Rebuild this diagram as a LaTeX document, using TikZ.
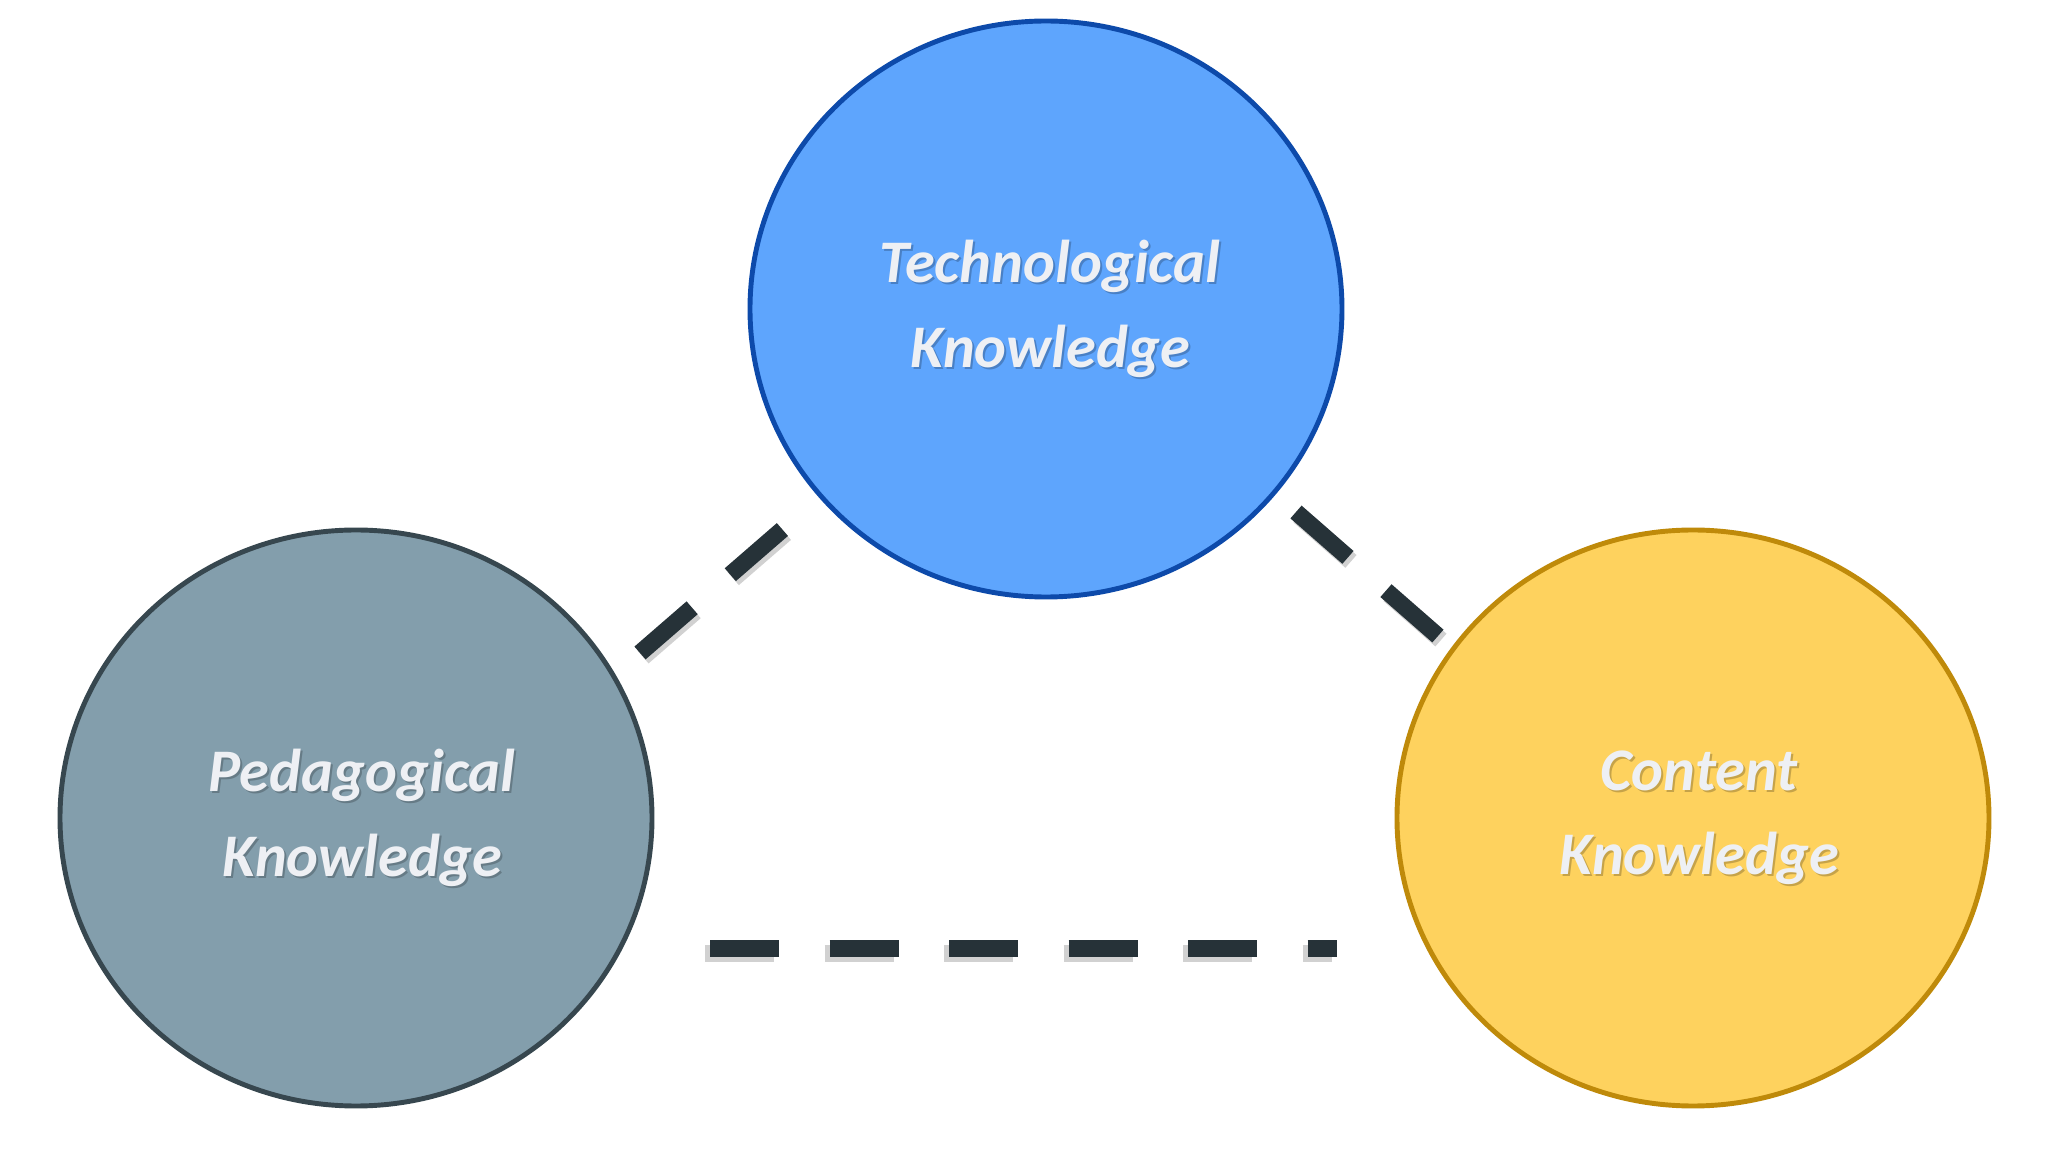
\documentclass[tikz,border=0pt]{standalone}
\usepackage{fontspec}
\setmainfont{Carlito}
\definecolor{techblue}{RGB}{94,165,253}
\definecolor{techedge}{RGB}{13,74,170}
\definecolor{pedgrey}{RGB}{131,158,172}
\definecolor{pededge}{RGB}{55,71,79}
\definecolor{contyellow}{RGB}{254,210,94}
\definecolor{contedge}{RGB}{191,138,10}
\definecolor{dashdark}{RGB}{38,50,56}
\definecolor{labelwhite}{RGB}{238,240,244}
\usetikzlibrary{shapes.geometric,positioning}

\begin{document}
\begin{tikzpicture}[
    knowledge/.style={ellipse, minimum width=5.92cm, minimum height=5.76cm, inner sep=0pt, line width=1.4pt},
    labeltext/.style={font=\fontsize{17.2}{24}\selectfont\bfseries\itshape, text=labelwhite, align=center},
    labelshade/.style={font=\fontsize{17.2}{24}\selectfont\bfseries\itshape, text=black, opacity=0.22, align=center},
    link/.style={dashdark, line width=0.17cm, dash pattern=on 0.69cm off 0.505cm},
    linkshade/.style={black, opacity=0.18, line width=0.17cm, dash pattern=on 0.69cm off 0.505cm}
]
    \fill[white] (0,0) rectangle (20.48,-11.52);
    \useasboundingbox (0,0) rectangle (20.48,-11.52);

    \node[knowledge, fill=techblue, draw=techedge] (tech) at (10.46,-3.09) {};
    \node[knowledge, fill=pedgrey, draw=pededge] (ped) at (3.56,-8.18) {};
    \node[knowledge, fill=contyellow, draw=contedge] (cont) at (16.93,-8.18) {};

    \node[labelshade] (tech-shade) at ([shift={(0.06,-0.02)}]tech) {Technological\\Knowledge};
    \node[labeltext] (tech-label) at ([xshift=0.04cm]tech) {Technological\\Knowledge};
    \node[labelshade] (ped-shade) at ([shift={(0.08,-0.02)}]ped) {Pedagogical\\Knowledge};
    \node[labeltext] (ped-label) at ([xshift=0.06cm]ped) {Pedagogical\\Knowledge};
    \node[labelshade] (cont-shade) at ([shift={(0.08,-0.02)}]cont) {Content\\Knowledge};
    \node[labeltext] (cont-label) at ([xshift=0.06cm]cont) {Content\\Knowledge};

    \coordinate (ped-tech-a) at (6.40,-6.53);
    \coordinate (ped-tech-b) at (7.83,-5.29);
    \coordinate (tech-cont-a) at (12.96,-5.12);
    \coordinate (tech-cont-b) at (14.39,-6.37);
    \coordinate (ped-cont-a) at (7.10,-9.48);
    \coordinate (ped-cont-b) at (13.37,-9.48);

    \draw[linkshade] ([shift={(0.03,-0.04)}]ped-tech-a) -- ([shift={(0.03,-0.04)}]ped-tech-b);
    \draw[linkshade] ([shift={(0.03,-0.04)}]tech-cont-a) -- ([shift={(0.03,-0.04)}]tech-cont-b);
    \draw[linkshade] ([shift={(-0.05,-0.05)}]ped-cont-a) -- ([shift={(-0.05,-0.05)}]ped-cont-b);
    \draw[link] (ped-tech-a) -- (ped-tech-b);
    \draw[link] (tech-cont-a) -- (tech-cont-b);
    \draw[link] (ped-cont-a) -- (ped-cont-b);
\end{tikzpicture}
\end{document}
